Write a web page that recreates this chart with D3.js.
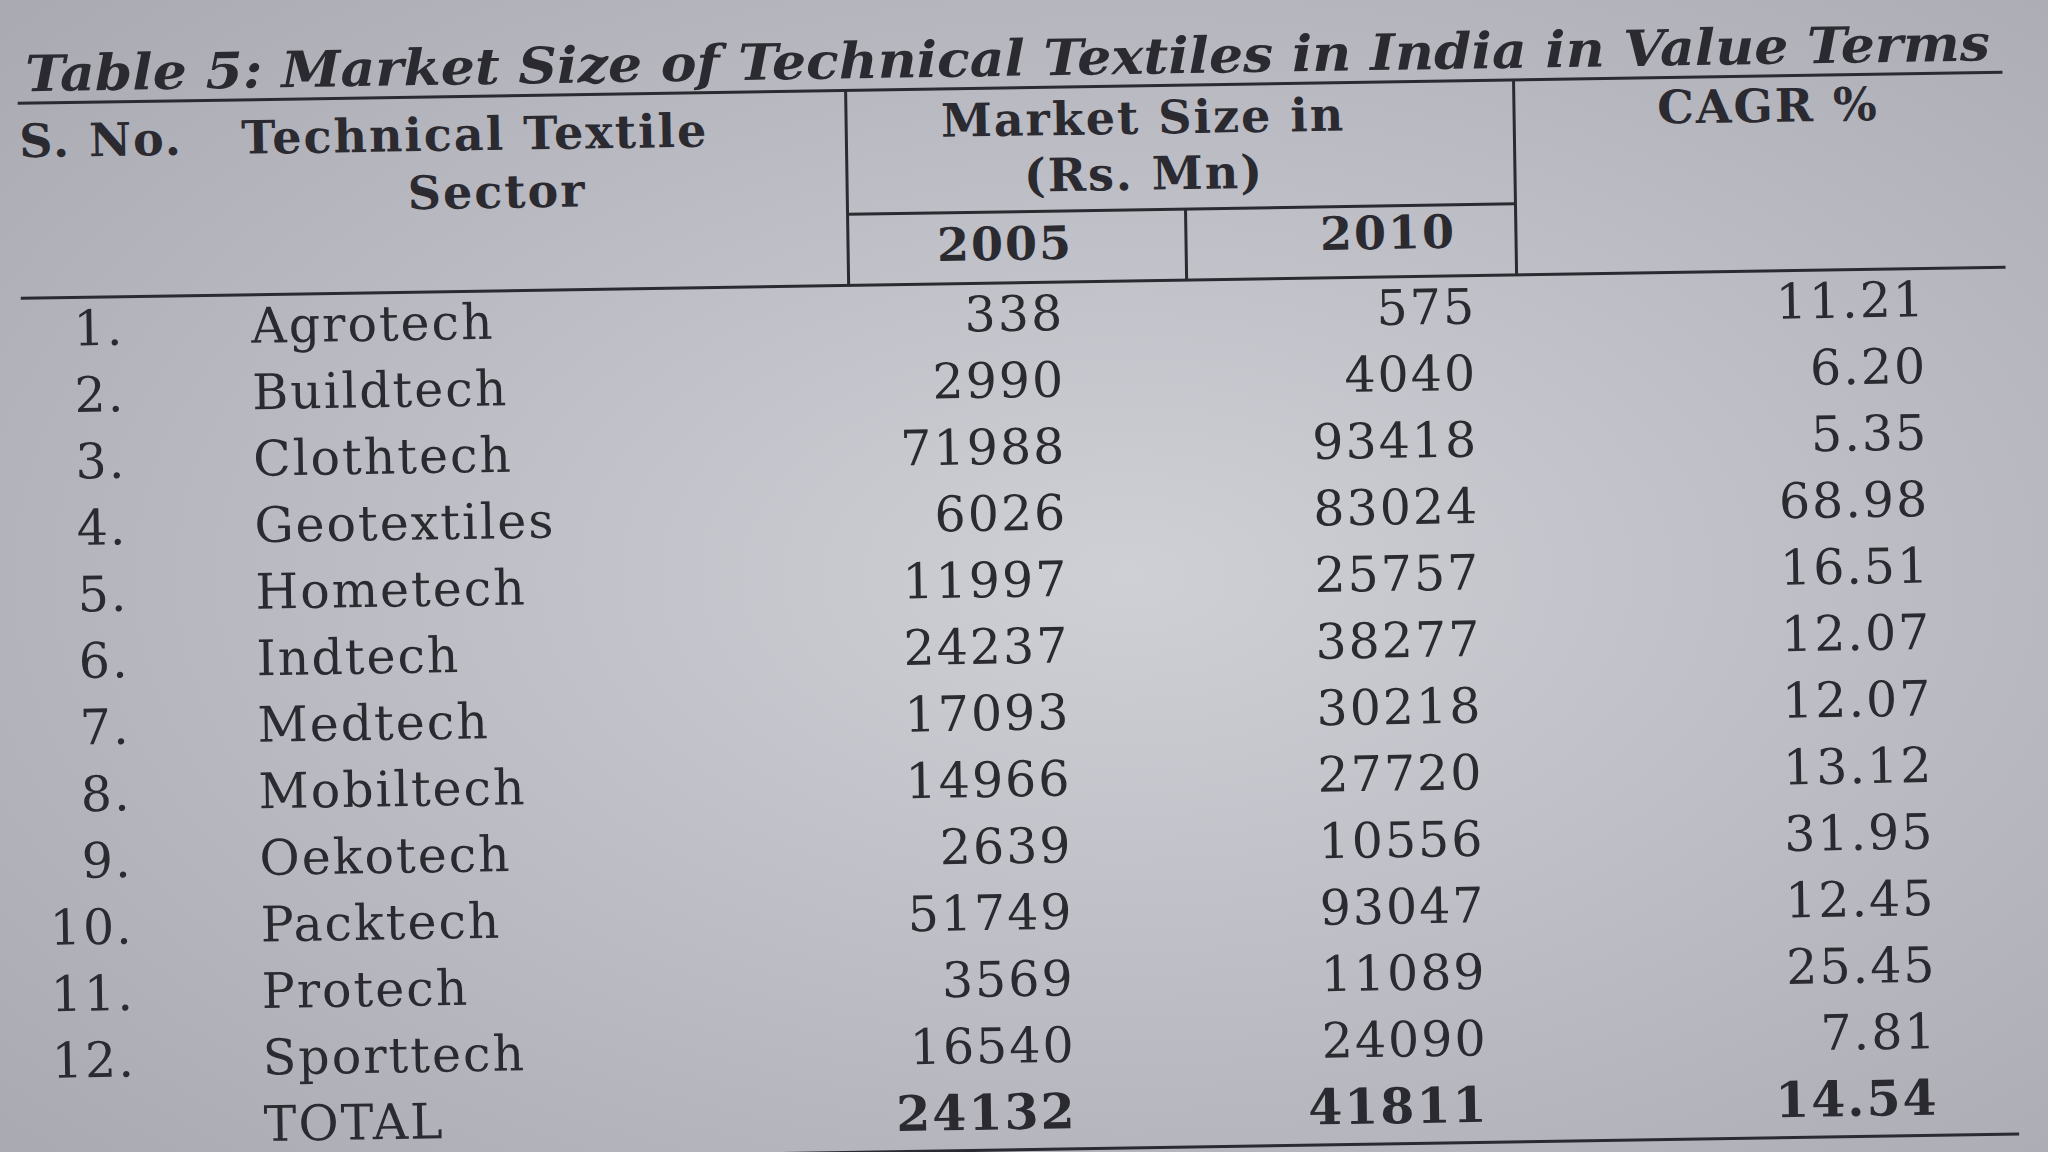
<!DOCTYPE html>
<html><head><meta charset="utf-8">
<script src="https://cdn.jsdelivr.net/npm/d3@7"></script>
<style>
body{margin:0;background:#b4b4bc;overflow:hidden}
text{font-family:"DejaVu Serif","Liberation Serif",serif;fill:#2a2a30}
</style></head>
<body><svg id="svg"></svg>
<script>
const sectors = ["Agrotech","Buildtech","Clothtech","Geotextiles","Hometech","Indtech","Medtech","Mobiltech","Oekotech","Packtech","Protech","Sporttech"]
const size2005 = ["338","2990","71988","6026","11997","24237","17093","14966","2639","51749","3569","16540"]
const size2010 = ["575","4040","93418","83024","25757","38277","30218","27720","10556","93047","11089","24090"]
const cagr = ["11.21","6.20","5.35","68.98","16.51","12.07","12.07","13.12","31.95","12.45","25.45","7.81"]
const total = ["24132","41811","14.54"]

const width = 2048, height = 1152
const svg = d3.select("#svg").attr("width", width).attr("height", height)

const defs = svg.append("defs")
const g1 = defs.append("radialGradient").attr("id","bg").attr("cx","55%").attr("cy","50%").attr("r","75%")
g1.append("stop").attr("offset","0%").attr("stop-color","#cfcfd6")
g1.append("stop").attr("offset","100%").attr("stop-color","#a9a9b2")
svg.append("rect").attr("width",width).attr("height",height).attr("fill","url(#bg)")

const page = svg.append("g").attr("transform","rotate(-0.9,1000,560)")

page.append("text").attr("x",33).attr("y",76).attr("font-size",50).attr("font-style","italic").attr("font-weight","bold")
  .attr("textLength",1965).attr("lengthAdjust","spacingAndGlyphs").text("Table 5: Market Size of Technical Textiles in India in Value Terms")

const line = (x1,y1,x2,y2,w) => page.append("line").attr("x1",x1).attr("y1",y1).attr("x2",x2).attr("y2",y2)
  .attr("stroke","#2a2a30").attr("stroke-width",w||3)
line(25,88,2010,88)
line(25,283,2010,283)
line(853,88,853,283)
line(1521,88,1521,283)
line(1191,212,1191,283)
line(853,212,1521,212)
line(25,1150,2010,1150)

const hdr = (x,y,t,anchor) => page.append("text").attr("x",x).attr("y",y).attr("font-size",46)
  .attr("font-weight","bold").attr("letter-spacing",2).attr("text-anchor",anchor||"start").text(t)
hdr(26,142,"S. No.")
hdr(248,142,"Technical  Textile")
hdr(503,200,"Sector","middle")
hdr(1150,136,"Market Size in","middle")
hdr(1150,192,"(Rs. Mn)","middle")
hdr(1010,260,"2005","middle")
hdr(1393,255,"2010","middle")
hdr(1775,134,"CAGR %","middle")

const y = d3.scaleBand().domain(d3.range(13)).range([283,1148])
const rows = sectors.map((s,i) => ({no:(i+1)+".", s, a:size2005[i], b:size2010[i], c:cagr[i]}))
rows.push({no:"", s:"TOTAL", a:total[0], b:total[1], c:total[2], bold:true})

const r = page.selectAll("g.row").data(rows).join("g").attr("class","row")
  .attr("transform",(d,i)=>`translate(0,${y(i)+y.bandwidth()*0.72})`)
  .attr("font-size",49).attr("letter-spacing",2)
r.append("text").attr("x",128).attr("text-anchor","end").text(d=>d.no)
r.append("text").attr("x",255).text(d=>d.s)
r.append("text").attr("x",1068).attr("text-anchor","end").attr("font-weight",d=>d.bold?"bold":null).text(d=>d.a)
r.append("text").attr("x",1480).attr("text-anchor","end").attr("font-weight",d=>d.bold?"bold":null).text(d=>d.b)
r.append("text").attr("x",1930).attr("text-anchor","end").attr("font-weight",d=>d.bold?"bold":null).text(d=>d.c)
</script></body></html>
